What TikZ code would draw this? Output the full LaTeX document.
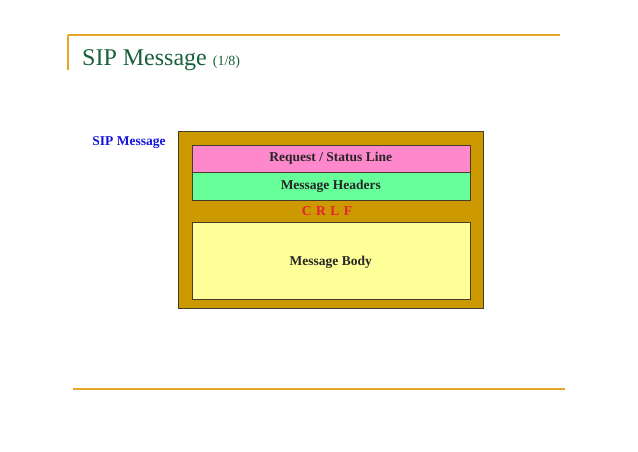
\documentclass[tikz,border=0pt]{standalone}
\usepackage{fontspec}
\setmainfont{Liberation Serif}
\usetikzlibrary{positioning}
\definecolor{rulegold}{RGB}{228,168,40}
\definecolor{titlegreen}{RGB}{25,95,60}
\definecolor{framegold}{RGB}{204,153,0}
\definecolor{linepink}{RGB}{255,136,204}
\definecolor{hdrgreen}{RGB}{102,255,153}
\definecolor{bodyyellow}{RGB}{255,255,153}
\definecolor{crlfred}{RGB}{230,30,60}
\definecolor{sipblue}{RGB}{20,20,220}
\definecolor{boxedge}{RGB}{70,60,40}

\begin{document}
\begin{tikzpicture}[x=1pt,y=-1pt,
  part/.style={draw=boxedge,line width=0.6pt,anchor=north west,minimum width=278pt,inner sep=0pt,
    font=\fontsize{13.5}{16}\selectfont\bfseries,text=black!85},
  lbl/.style={font=\fontsize{13.5}{16}\selectfont\bfseries},
]
  \useasboundingbox (0,0) rectangle (638,451);
  % slide rules
  \draw[rulegold,line width=1.2pt] (68,35) -- (560,35);
  \draw[rulegold,line width=1.2pt] (68,35) -- (68,70);
  \draw[rulegold,line width=1.5pt] (73,389) -- (565,389);
  \node[anchor=base west,inner sep=0pt,text=titlegreen,font=\fontsize{24}{28}\selectfont] (title) at (82,65)
    {SIP Message {\fontsize{14}{16}\selectfont(1/8)}};

  % message layout
  \node[draw=boxedge,line width=0.6pt,fill=framegold,anchor=north west,inner sep=0pt,
    minimum width=305pt,minimum height=177pt] (msg) at (178,131) {};
  \node[part,fill=linepink,minimum height=27pt] (start) at (191.5,144.5) {Request / Status Line};
  \node[part,fill=hdrgreen,minimum height=28pt] (hdrs) at (191.5,171.5) {Message Headers};
  \node[lbl,text=crlfred] (crlf) at (327,211.5) {C\,\,R\,\,L\,\,F};
  \node[part,fill=bodyyellow,minimum height=77.5pt,text depth=-3pt] (body) at (191.5,221.5) {Message Body};
  \node[lbl,text=sipblue] (siplbl) at (129,142.5) {SIP Message};
\end{tikzpicture}
\end{document}
